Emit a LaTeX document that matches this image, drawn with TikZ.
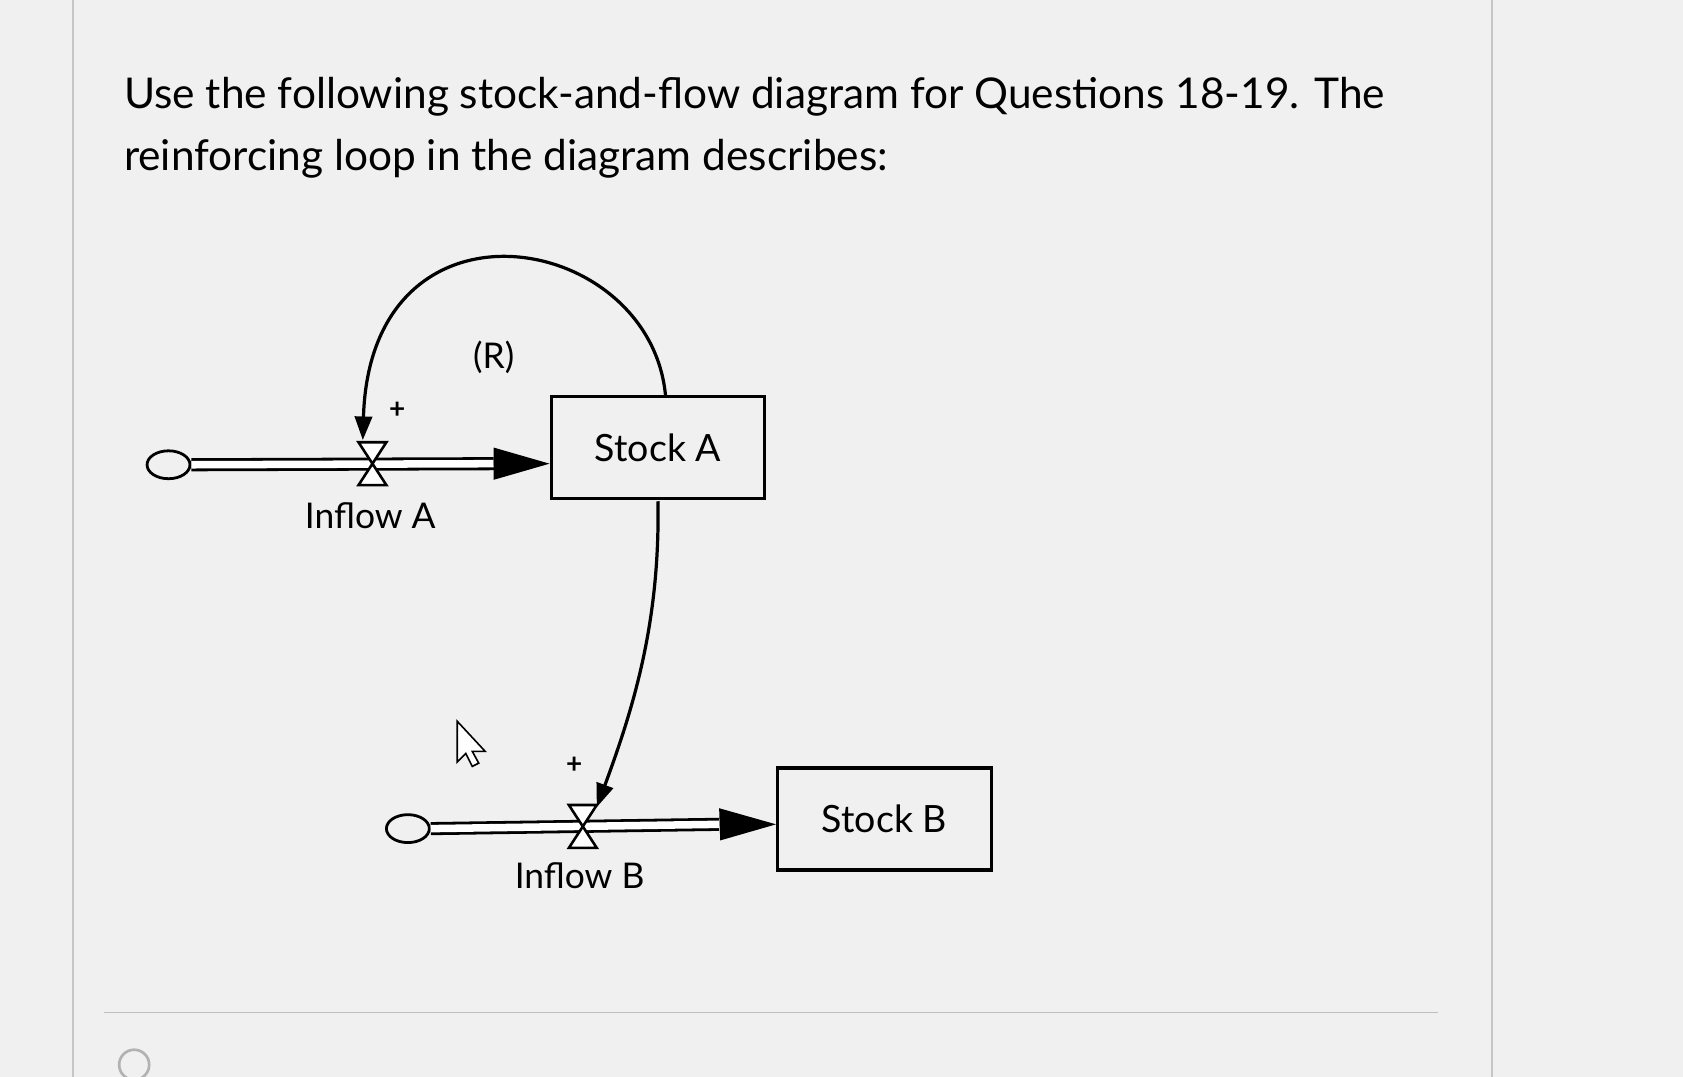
\documentclass[tikz,border=0pt]{standalone}
\usepackage{fontspec}
\setmainfont{Lato}
\usetikzlibrary{arrows.meta,shapes.geometric}
\begin{document}
\begin{tikzpicture}[x=1pt,y=-1pt,
  stockbox/.style={draw,line width=3pt,minimum width=199pt,minimum height=95pt,font=\fontsize{35}{40}\selectfont},
  lbl/.style={font=\fontsize{33}{38}\selectfont},
  pipe/.style={double distance=7pt,line width=2.6pt},
  link/.style={line width=3pt,-{Triangle[length=22pt,width=16pt]}},
  flowtip/.style={fill=black},
  cloud/.style={draw,line width=2.6pt,ellipse,minimum width=40pt,minimum height=26pt,inner sep=0pt,fill=gray!12}]
\fill[gray!12] (0,0) rectangle (1568,1003);
\useasboundingbox (0,0) rectangle (1568,1003);
\draw[gray!45,line width=1pt] (68,0) -- (68,1003);
\draw[gray!45,line width=1pt] (1390,0) -- (1390,1003);
\node[anchor=west,font=\fontsize{39.5}{44}\selectfont] (t1) at (112,90) {Use the following stock-and-flow diagram for Questions 18-19. The};
\node[anchor=west,font=\fontsize{39.5}{44}\selectfont] (t2) at (112,148) {reinforcing loop in the diagram describes:};
% stocks
\node[stockbox] (sa) at (613,417) {Stock A};
\node[stockbox] (sb) at (824,763) {Stock B};
% clouds
\node[cloud] (ca) at (157,433) {};
\node[cloud] (cb) at (380,772) {};
% valves
\coordinate (va) at (347,432);
\coordinate (vb) at (543,770);
\coordinate (ta) at (460,432);
\coordinate (tb) at (670,768);
\draw[pipe] (ca.east) -- (ta);
\draw[pipe] (cb.east) -- (tb);
\fill[flowtip] (ta) ++(0,-15) -- (sa.west |- ta) -- ++(-52,15) -- cycle;
\fill[flowtip] (tb) ++(0,-15) -- (sb.west |- tb) -- ++(-52,15) -- cycle;
\draw[line width=2.4pt,fill=white] (va) ++(-13,-20) -- ++(26,0) -- ++(-26,40) -- ++(26,0) -- cycle;
\draw[line width=2.4pt,fill=white] (vb) ++(-13,-20) -- ++(26,0) -- ++(-26,40) -- ++(26,0) -- cycle;
\node[lbl] (la) at (345,480) {Inflow A};
\node[lbl] (lb) at (540,816) {Inflow B};
% links
\draw[link] (620,368) .. controls (605,215) and (345,170) .. (338,410);
\draw[link] (613,467) .. controls (615,580) and (590,660) .. (556,752);
\node[font=\bfseries\fontsize{26}{30}\selectfont] (pa) at (370,382) {+};
\node[font=\bfseries\fontsize{26}{30}\selectfont] (pb) at (535,713) {+};
\node[lbl] (r) at (460,333) {(R)};
% cursor
\draw[line width=1.5pt,fill=white] (426,672) -- (426,710) -- (434,702) -- (440,714) -- (446,711) -- (440,700) -- (452,700) -- cycle;
% bottom
\draw[gray!50,line width=1pt] (97,943) -- (1340,943);
\draw[gray!60,line width=2.5pt] (125,992) circle (14);
\end{tikzpicture}
\end{document}
